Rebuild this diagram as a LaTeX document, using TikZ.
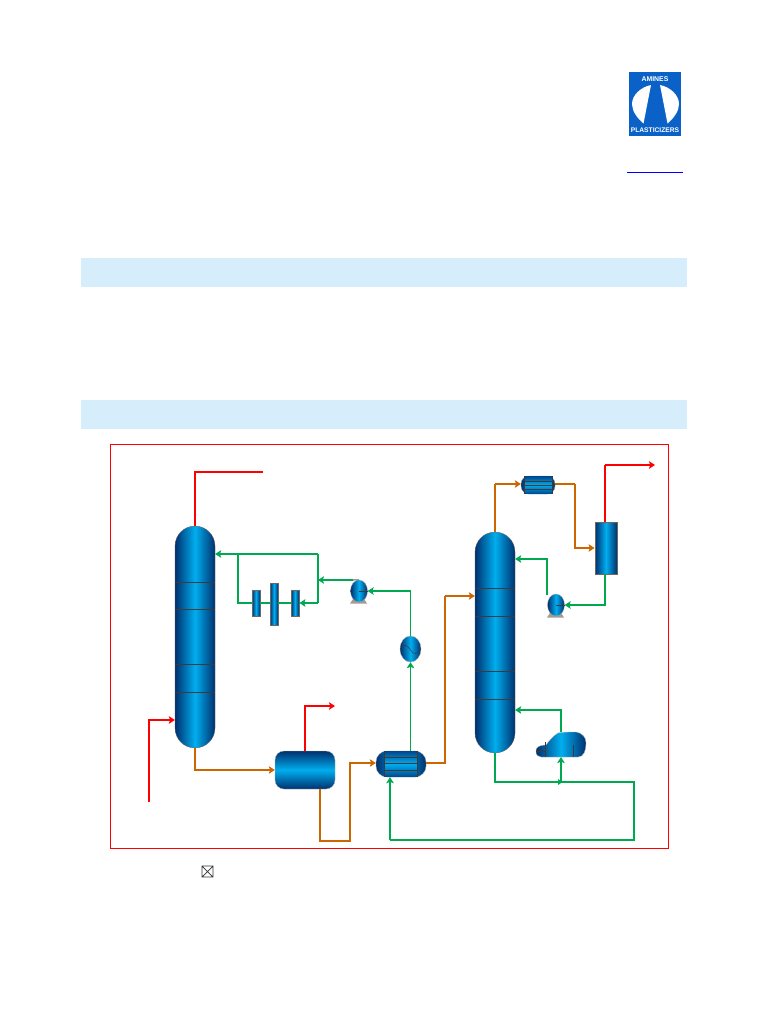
\documentclass[tikz,border=0pt]{standalone}
\usepackage{fontspec}
\setmainfont{Liberation Sans}
\usetikzlibrary{arrows.meta,shapes.geometric,calc}
\definecolor{edgeblue}{HTML}{00306E}
\definecolor{shellblue}{HTML}{00488E}
\definecolor{midblue}{HTML}{00AEEF}
\definecolor{rimc}{HTML}{6E6660}
\definecolor{trayc}{HTML}{3F3A3A}
\definecolor{basec}{HTML}{A89A90}
\definecolor{pipered}{HTML}{FF0000}
\definecolor{pipeorange}{HTML}{CC6600}
\definecolor{pipegreen}{HTML}{00A850}
\definecolor{bandc}{HTML}{D6EEFC}
\definecolor{logoblue}{HTML}{0A62C8}
\tikzset{
  x=1pt,y=-1pt,
  tip/.style={-{Stealth[length=6pt,width=7.5pt,inset=1.2pt]}},
  redp/.style={draw=pipered,line width=1.8pt},
  orap/.style={draw=pipeorange,line width=1.5pt},
  grnp/.style={draw=pipegreen,line width=1.5pt},
  fat/.style={line width=2.8pt},
  hshade/.style={left color=edgeblue,right color=edgeblue,middle color=midblue},
  vshade/.style={top color=edgeblue,bottom color=edgeblue,middle color=midblue},
  shellshade/.style={top color=shellblue,bottom color=shellblue,middle color=midblue},
  tower/.style={rectangle,rounded corners=20pt,inner sep=0pt,minimum width=40pt,minimum height=#1,hshade,draw=rimc,line width=.3pt},
  hvessel/.style={rectangle,rounded corners=9pt,inner sep=0pt,minimum width=60pt,minimum height=38pt,vshade,draw=rimc!50,line width=.3pt},
  exch/.style={rectangle,inner sep=0pt,hshade,draw=rimc!60,line width=.3pt},
  plate/.style={rectangle,inner sep=0pt,hshade,draw=rimc,line width=.8pt},
  pumpb/.style={ellipse,inner sep=0pt,minimum width=17pt,minimum height=22pt,hshade,draw=rimc!60,line width=.3pt},
  tray/.style={draw=trayc,line width=.6pt},
  band/.style={fill=bandc,draw=none},
}
\begin{document}
\begin{tikzpicture}
\useasboundingbox[fill=white] (0,0) rectangle (768,1024);
% page furniture
\fill[band] (81,258) rectangle (687,287);
\fill[band] (81,400) rectangle (687,429);
\draw[pipered,line width=.9pt] (110.5,444.5) rectangle (668.5,848.5);
\draw[blue,line width=1pt] (627,173) -- (683,173);
% logo
\fill[logoblue] (629,72) rectangle (681,136);
\fill[white] (651,85) .. controls (641,87) and (632,95) .. (632,104) .. controls (632,111) and (637,118) .. (643.5,123.5) -- cycle;
\fill[white] (660,85) .. controls (670,87) and (679,95) .. (679,104) .. controls (679,111) and (674,118) .. (667.5,123.5) -- cycle;
\node[text=white,font=\bfseries\fontsize{6.9}{8}\selectfont,inner sep=0pt] (lg1) at (655,79) {AMINES};
\node[text=white,font=\bfseries\fontsize{6.7}{8}\selectfont,inner sep=0pt] (lg2) at (655,130) {PLASTICIZERS};
% checkbox
\draw[black!80,line width=.7pt] (202,866) rectangle (213,877) (202,866) -- (213,877) (202,877) -- (213,866);

% equipment anchors
\coordinate (a1) at (195,472); \coordinate (a2) at (263,472);
\coordinate (f0) at (149,802); \coordinate (f1) at (149,720);
\coordinate (b1) at (195,770);
\coordinate (v1) at (305,706); \coordinate (v2) at (335,706);
\coordinate (d1) at (320,841); \coordinate (d2) at (350,841); \coordinate (d3) at (350,763);
\coordinate (r1) at (318,554); \coordinate (r2) at (238,554); \coordinate (r3) at (238,603); \coordinate (r4) at (318,603); \coordinate (r5) at (318,580);
\coordinate (r6) at (353,580);
\coordinate (h1) at (410.5,591);
\coordinate (x1) at (445,763); \coordinate (x2) at (445,596);
\coordinate (t1) at (495,484);
\coordinate (c1) at (575,484); \coordinate (c2) at (575,548);
\coordinate (o1) at (605,465); \coordinate (o2) at (655,465);
\coordinate (g1) at (605,605);
\coordinate (g2) at (547,559); \coordinate (g3) at (547,595);
\coordinate (k1) at (561,710);
\coordinate (m1) at (495,782); \coordinate (m2) at (634,782); \coordinate (m3) at (634,840); \coordinate (m4) at (390,840); \coordinate (m5) at (561,782);

% equipment
\node[tower=222pt] (col1) at (195,637) {};
\node[tower=221pt] (col2) at (495,642.5) {};
\node[hvessel] (drum) at (305,770) {};
\node[exch,rounded corners=11pt,minimum width=50pt,minimum height=26pt] (hx1) at (401,764) {};
\node[exch,rounded corners=8pt,minimum width=34pt,minimum height=18pt] (hx2) at (538,485) {};
\node[plate,minimum width=22pt,minimum height=52pt] (acc) at (606,548) {};
\node[plate,minimum width=8pt,minimum height=26pt] (p1) at (256,603) {};
\node[plate,minimum width=8pt,minimum height=42pt] (p2) at (274,604) {};
\node[plate,minimum width=8pt,minimum height=26pt] (p3) at (295,603) {};
\node[ellipse,inner sep=0pt,minimum width=21pt,minimum height=26pt,hshade,draw=rimc!60,line width=.3pt] (heat) at (410.5,649) {};
\fill[basec] (350,603.5) -- (353,599) -- (364,599) -- (367,603.5) -- cycle;
\fill[basec] (547,617.5) -- (550,613) -- (561,613) -- (564,617.5) -- cycle;
\node[pumpb] (pump1) at (359,591) {};
\node[pumpb] (pump2) at (556,605) {};
\shade[hshade,draw=rimc!50,line width=.3pt] (536,751) .. controls (536,747) and (540,745) .. (546,745) .. controls (549,741) and (553,736) .. (558,733) .. controls (562,732) and (570,732) .. (576,732) .. controls (582,733) and (586,737) .. (586,743) .. controls (586,750) and (584,757) .. (578,757) -- (541,757) .. controls (538,757) and (536,755) .. (536,751) -- cycle;
\coordinate (reb) at (561,757); \coordinate (rebt) at (561,732);

% details on equipment
\foreach \y in {582,609,664,692} \draw[tray] (col1.west |- 0,\y) -- (col1.east |- 0,\y);
\foreach \y in {588,616,671,699} \draw[tray] (col2.west |- 0,\y) -- (col2.east |- 0,\y);
% exchanger shell and tubes
\shade[shellshade] (384,751.3) rectangle (417,776.7);
\foreach \y in {757,763.5,770} \draw[trayc,line width=.9pt] (384,\y) -- (417,\y);
\foreach \x in {384,417} \draw[trayc,line width=.7pt] (\x,751.3) -- (\x,776.7);
\shade[shellshade] (524,476.3) rectangle (552.5,493.7);
\foreach \y in {481,485,489} \draw[trayc,line width=.8pt] (524,\y) -- (552.5,\y);
\foreach \x in {524,552.5} \draw[trayc,line width=.7pt] (\x,476.3) -- (\x,493.7);
\draw[trayc,line width=.5pt] (401,649) .. controls (404,643) and (407,645) .. (410.5,650) .. controls (414,655) and (417,655) .. (420,649);
\draw[trayc,line width=.6pt] (545,742) -- (545,757) (536,751) -- (545,751) (573,745) -- (573,757);

% connectors
\draw[redp] (col1.north) -- (a1) -- (a2);
\draw[redp,tip] (f0) -- (f1) -- (col1.west |- f1);
\draw[orap,tip] (col1.south) -- (b1) -- (drum.west |- b1);
\draw[redp,tip] (drum.north) -- (v1) -- (v2);
\draw[orap,tip] (drum.south -| d1) -- (d1) -- (d2) -- (d3) -- (hx1.west |- d3);
\draw[grnp,tip] (hx1.north -| heat.south) -- (heat.south);
\draw[grnp,tip] (heat.north) -- (h1) -- (pump1.east |- h1);
\draw[trayc,line width=.8pt] (pump1.center) -- (pump1.east);
\draw[rimc,line width=1pt] (pump1.north) -- (r6);
\draw[grnp,fat,tip] (r6) -- (r5);
\draw[grnp] (r4) -- (r1);
\draw[grnp,tip] (r1) -- (col1.east |- r1);
\draw[grnp] (r2) -- (r3) -- (p1.west |- r3);
\draw[grnp,tip] (r4) -- (p3.east |- r4);
\draw[grnp] (p1.east |- r3) -- (p2.west |- r3);
\draw[grnp] (p2.east |- r3) -- (p3.west |- r3);
\draw[orap] (hx1.east |- x1) -- (x1) -- (x2);
\draw[orap,tip] (x2) -- (col2.west |- x2);
\draw[orap,fat,tip] (t1) -- (hx2.west |- t1);
\draw[orap,line width=2pt] (col2.north) -- (t1);
\draw[orap,fat] (hx2.east |- c1) -- (c1);
\draw[orap,tip] (c1) -- (c2) -- (acc.west |- c2);
\draw[redp,fat,tip] (o1) -- (o2);
\draw[redp,line width=2.2pt] (acc.north -| o1) -- (o1);
\draw[grnp,tip] (acc.south -| g1) -- (g1) -- (pump2.east |- g1);
\draw[trayc,line width=.8pt] (pump2.center) -- (pump2.east);
\draw[grnp,line width=2.2pt,tip] (g3) -- (g2) -- (col2.east |- g2);
\draw[grnp,tip] (rebt) -- (k1) -- (col2.east |- k1);
\draw[grnp] (col2.south) -- (m1) -- (m2) -- (m3) -- (m4);
\draw[grnp,tip] (m4) -- (hx1.south -| m4);
\draw[grnp,tip] (m5) -- (reb);
\path[grnp,draw=none,fill=pipegreen] (558,779) -- (562.5,782) -- (558,785) -- cycle;
\end{tikzpicture}
\end{document}
